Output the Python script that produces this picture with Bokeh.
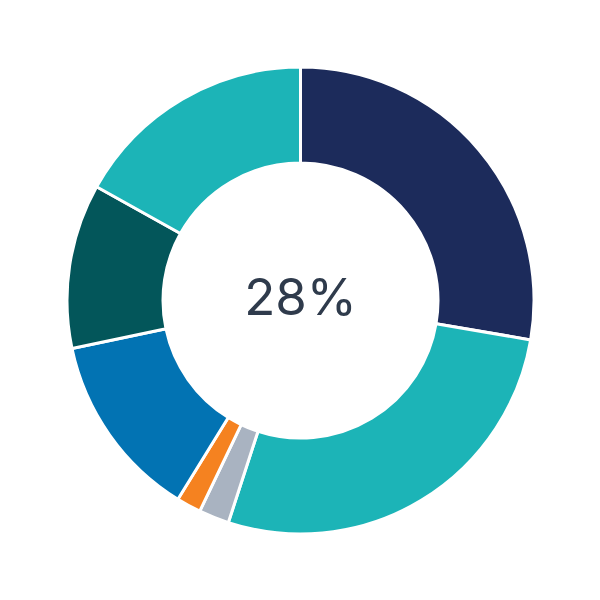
import math
from bokeh.plotting import figure
from bokeh.models import ColumnDataSource, Range1d
from bokeh.core.properties import value
from bokeh.embed import file_html
from bokeh.resources import INLINE

categories = ["A", "B", "C", "D", "E", "F", "G"]
shares = [27.7, 27.3, 2.1, 1.7, 12.9, 11.4, 16.9]
colors = ["#1c2b5b", "#1cb4b7", "#a9b3c1", "#f58220", "#0273b3", "#03565a", "#1cb4b7"]
center_label = ["28%"]

total = sum(shares)
starts, ends = [], []
acc = 0.0
for s in shares:
    a0 = math.pi / 2 - 2 * math.pi * acc / total
    acc += s
    a1 = math.pi / 2 - 2 * math.pi * acc / total
    starts.append(a0)
    ends.append(a1)

src = ColumnDataSource(dict(cat=categories, share=shares, color=colors,
                            start=starts, end=ends,
                            x=[0] * len(shares), y=[0] * len(shares)))

p = figure(width=584, height=584, output_backend="svg", toolbar_location=None,
           x_range=Range1d(-300, 284), y_range=Range1d(-284, 300),
           min_border=0, outline_line_color=None)
p.axis.visible = False
p.grid.visible = False

p.annular_wedge(x="x", y="y", inner_radius=137.5, outer_radius=233.5,
                start_angle="start", end_angle="end", direction="clock",
                fill_color="color", line_color="white", line_width=3,
                source=src)

p.text(x=[0], y=[4], text=center_label, text_font=value("Inter"),
       text_font_size="51px", text_color="#2f3b4c",
       text_align="center", text_baseline="middle")

open("out.html", "w").write(file_html(p, INLINE))
